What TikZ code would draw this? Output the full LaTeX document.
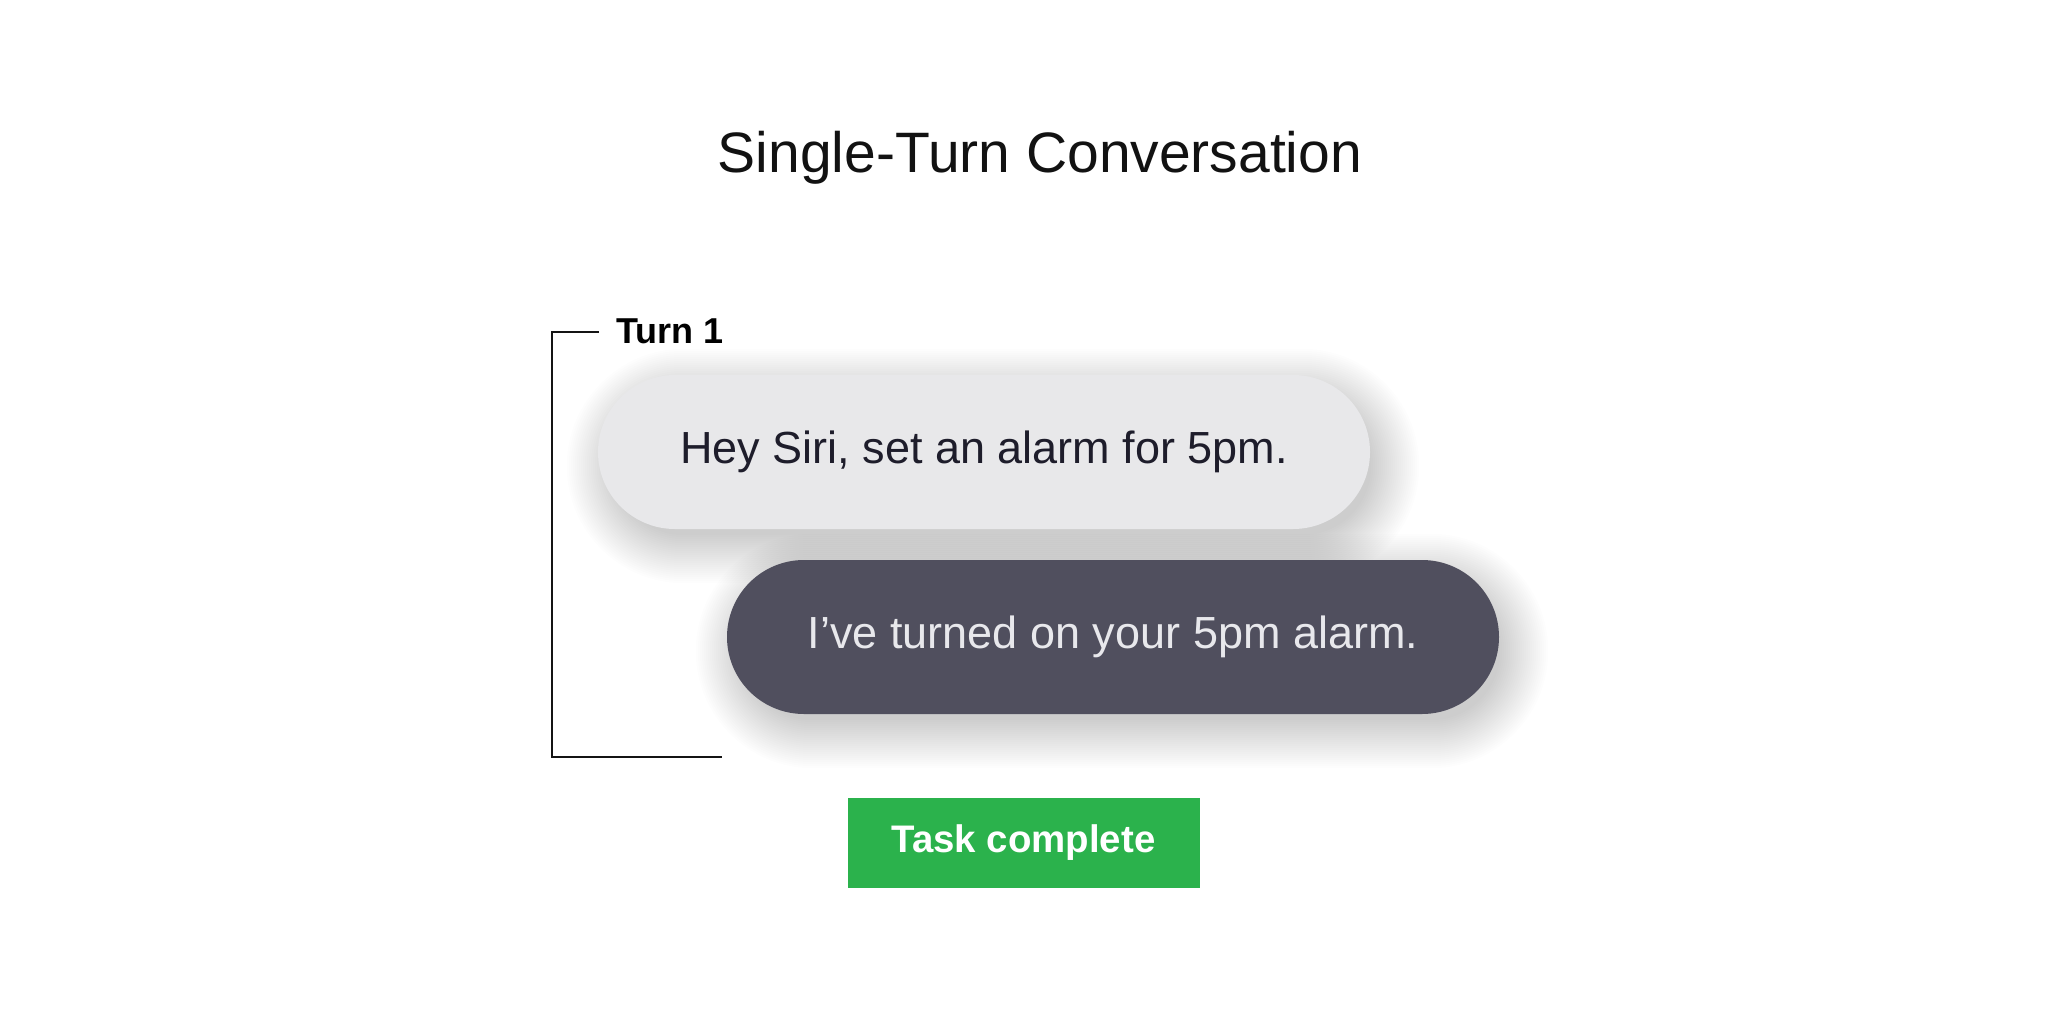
\documentclass[tikz,border=0pt]{standalone}
\usepackage{fontspec}
\setmainfont{Liberation Sans}
\usetikzlibrary{backgrounds,calc}
\pgfdeclarelayer{canvas}
\pgfsetlayers{canvas,background,main}
\definecolor{bubblelight}{HTML}{E8E8EA}
\definecolor{bubbledark}{HTML}{504F5E}
\definecolor{darktext}{HTML}{1E1D2B}
\definecolor{lighttext}{HTML}{E8E8EC}
\definecolor{taskgreen}{HTML}{2BB24C}
\tikzset{
  bubble/.style={rounded corners=77pt, minimum width=772pt, minimum height=154pt,
    inner sep=0pt, font=\fontsize{45}{54}\selectfont},
  bracketline/.style={line width=2.7pt, draw=black!92},
  softshadow/.style={fill=black, opacity=0.006},
}
\newcommand{\bubbleshadow}[1]{%
  \foreach \r [evaluate=\r as \rc using 77+\r] in {-8,-6,...,40}{%
    \fill[softshadow, rounded corners=\rc pt]
      ($(#1.north west)+(9-\r,14-\r)$) rectangle ($(#1.south east)+(9+\r,14+\r)$);
  }%
}
\begin{document}
\begin{tikzpicture}[x=1pt,y=-1pt]
\begin{pgfonlayer}{canvas}
\path[use as bounding box, fill=white] (0,0) rectangle (2048,1020);
\end{pgfonlayer}
\node[anchor=base, font=\fontsize{57}{68}\selectfont, text=black!93] (title) at (1040,172) {Single-Turn Conversation};
% bracket
\coordinate (btop) at (599,332);
\coordinate (bcorner1) at (552,332);
\coordinate (bcorner2) at (552,757);
\coordinate (bend) at (722,757);
\draw[bracketline] (btop) -- (bcorner1) -- (bcorner2) -- (bend);
\node[anchor=base west, inner sep=0pt, font=\bfseries\fontsize{36}{43}\selectfont] (turn) at (616,343) {Turn 1};
% bubbles
\node[bubble, fill=bubblelight, text=darktext] (user) at (984,452) {Hey Siri, set an alarm for 5pm.};
\node[bubble, fill=bubbledark, text=lighttext] (siri) at (1113,637) {I’ve turned on your 5pm alarm.};
\begin{scope}[on background layer]
  \bubbleshadow{user}
  \bubbleshadow{siri}
\end{scope}
% task complete
\node[fill=taskgreen, minimum width=352pt, minimum height=90pt, inner sep=0pt,
  text=white, font=\bfseries\fontsize{38.4}{46}\selectfont] (task) at (1023.5,843) {Task complete};
\end{tikzpicture}
\end{document}
